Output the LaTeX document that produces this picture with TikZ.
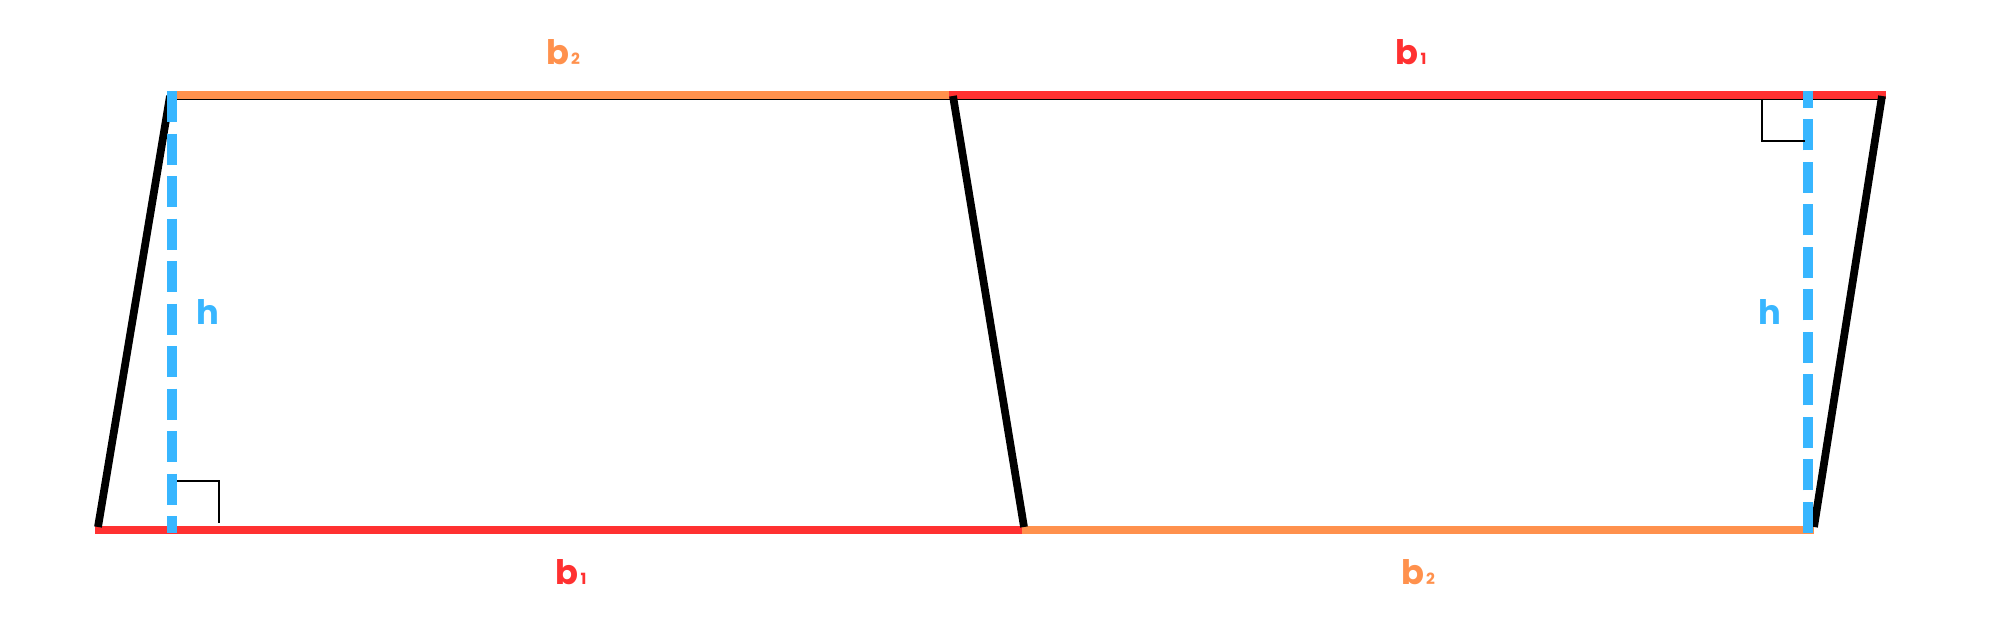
\documentclass[tikz,border=0pt]{standalone}
\usepackage{fontspec}
\setmainfont{Poppins}
\usepackage{xcolor}
\usetikzlibrary{calc}
\definecolor{baseone}{HTML}{FF3131}
\definecolor{basetwo}{HTML}{FF914D}
\definecolor{heightblue}{HTML}{38B6FF}
\newcommand{\lbl}[2]{\fontsize{9.6}{11}\selectfont\bfseries #1\kern0.6pt{\fontsize{4.4}{5}\selectfont #2}}
\tikzset{
  side/.style={line width=2.2pt},
  base/.style={line width=2.4pt},
  height/.style={heightblue, line width=2.8pt, dash pattern=on 0.31cm off 0.115cm},
  rightangle/.style={line width=0.5pt},
  label/.style={inner sep=0pt, anchor=center}
}

\begin{document}
\begin{tikzpicture}[x=0.01cm, y=-0.01cm]
      \useasboundingbox (0,0) rectangle (2000,625);
      % vertices of the two parallelograms
      \coordinate (bl) at (98,527);
      \coordinate (tl) at (170,96);
      \coordinate (tm) at (953,96);
      \coordinate (bm) at (1024,527);
      \coordinate (tr) at (1882,96);
      \coordinate (br) at (1814,527);
      \draw[line width=0.4pt] ($(tl)+(0,3)$) -- ($(tr)+(0,3)$);
      \draw[line width=0.4pt] ($(bl)+(0,-0.5)$) -- ($(br)+(0,-0.5)$);
      \draw[basetwo, base] (167,95) -- (949,95);
      \draw[baseone, base] (949,95) -- (1886,95);
      \draw[baseone, base] (95,530) -- (1022,530);
      \draw[basetwo, base] (1022,530) -- (1814,530);
      \draw[side] (bl) -- (tl);
      \draw[side] (tm) -- (bm);
      \draw[side] (tr) -- (br);
      \draw[height] (172,91) -- (172,533);
      \draw[height] (1808,533) -- (1808,91);
      \draw[rightangle] (177,481) -- (219,481) -- (219,523);
      \draw[rightangle] (1762,99) -- (1762,141) -- (1805,141);
      \node [label, text=basetwo] (b2top) at (563,52) {\lbl{b}{2}};
      \node [label, text=baseone] (b1top) at (1411,52) {\lbl{b}{1}};
      \node [label, text=baseone] (b1bot) at (571,572) {\lbl{b}{1}};
      \node [label, text=basetwo] (b2bot) at (1418,572) {\lbl{b}{2}};
      \node [label, text=heightblue] (hleft) at (209,312) {\lbl{h}{}};
      \node [label, text=heightblue] (hright) at (1771,312) {\lbl{h}{}};
    \end{tikzpicture}
\end{document}
